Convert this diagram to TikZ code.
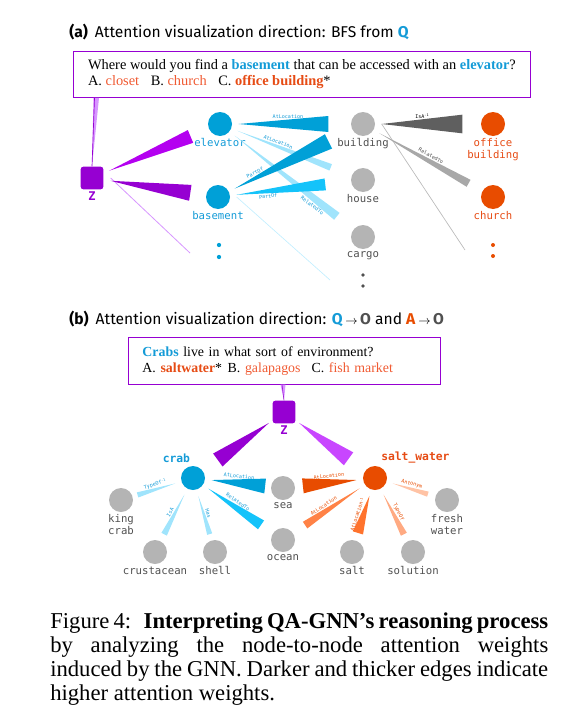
\documentclass[tikz,border=0pt]{standalone}
\usepackage{fontspec}
\setmainfont{Liberation Serif}
\newfontfamily\headfont{Fira Sans}
\newfontfamily\monofont{DejaVu Sans Mono}
\usetikzlibrary{calc}

\definecolor{zdark}{RGB}{150,0,210}
\definecolor{zbright}{RGB}{180,0,240}
\definecolor{zviolet}{RGB}{200,70,255}
\definecolor{zlight}{RGB}{215,150,255}
\definecolor{qblue}{RGB}{0,160,215}
\definecolor{qcyan}{RGB}{20,195,250}
\definecolor{qlight}{RGB}{160,228,252}
\definecolor{qpale}{RGB}{195,238,255}
\definecolor{qtext}{RGB}{20,155,215}
\definecolor{adark}{RGB}{232,76,0}
\definecolor{aorg}{RGB}{255,130,70}
\definecolor{asalt}{RGB}{255,115,45}
\definecolor{alight}{RGB}{255,170,130}
\definecolor{apale}{RGB}{255,195,165}
\definecolor{atext}{RGB}{240,90,50}
\definecolor{atext2}{RGB}{230,75,20}
\definecolor{onode}{RGB}{180,180,180}
\definecolor{odark}{RGB}{95,95,95}
\definecolor{omid}{RGB}{168,168,168}
\definecolor{olight}{RGB}{185,185,185}
\definecolor{otext}{RGB}{80,80,80}

\newcommand\inv{\raisebox{0.9pt}{\fontsize{2.6}{3}\selectfont -1}}

\tikzset{
  head/.style={font=\headfont\fontsize{11.7}{13}\selectfont, inner sep=0pt},
  qbox/.style={draw=zdark, line width=0.7pt, align=left, inner ysep=3pt,
               font=\fontsize{10.4}{12}\selectfont},
  zbox/.style={rectangle, rounded corners=2pt, fill=zdark, minimum size=17pt, inner sep=0pt},
  qnode/.style={circle, fill=qblue, minimum size=18pt, inner sep=0pt},
  anode/.style={circle, fill=adark, minimum size=18pt, inner sep=0pt},
  onode/.style={circle, fill=onode, minimum size=18pt, inner sep=0pt},
  lab/.style={font=\monofont\fontsize{8}{8.6}\selectfont, align=center, inner sep=1.5pt},
  qlab/.style={lab, text=qtext},
  alab/.style={lab, text=atext2},
  olab/.style={lab, text=otext},
  toplab/.style={font=\monofont\bfseries\fontsize{8.5}{9}\selectfont},
  zlab/.style={lab, text=zdark, font=\monofont\bfseries\fontsize{9}{9}\selectfont},
  elab/.style={font=\monofont\fontsize{3.8}{4}\selectfont, inner sep=0.3pt},
  caption/.style={font=\fontsize{17}{18}\selectfont, text width=373.5pt,
                  align=justify, inner sep=0pt},
}

\begin{document}
\begin{tikzpicture}[x=0.75pt, y=-0.75pt]
    \useasboundingbox (0,0) rectangle (585,728);

    % (a) BFS from Q
    \node[head, anchor=base west] (ha) at (69,37)
        {\textbf{(a)}\hspace{0.45em}Attention visualization direction: BFS from \textcolor{qtext}{\textbf{Q}}};
    \node[qbox, font=\fontsize{10.8}{12}\selectfont, anchor=north west, minimum width=342.75pt, minimum height=34.5pt] (qa) at (73,51)
        {Where would you find a \textcolor{qtext}{\textbf{basement}} that can be accessed with an \textcolor{qtext}{\textbf{elevator}}?\\
         A. \textcolor{atext}{closet}\hspace{0.8em}B. \textcolor{atext}{church}\hspace{0.8em}C. \textcolor{atext2}{\textbf{office building}}*};

    \node[zbox, label={[zlab]below:Z}] (za) at (92,178) {};
    \node[qnode, label={[qlab]below:elevator}] (elev) at (220,124) {};
    \node[qnode, label={[qlab]below:basement}] (base) at (218,197) {};
    \node[onode, label={[olab]below:building}] (build) at (363,124) {};
    \node[onode, label={[olab]below:house}] (house) at (363,180) {};
    \node[onode, label={[olab]below:cargo}] (cargo) at (363,237) {};
    \node[anode, label={[alab]below:office\\building}] (offb) at (493,124) {};
    \node[anode, label={[alab]below:church}] (church) at (493,197) {};

    \coordinate (pa) at ($(qa.south west)+(23,0)$);
    \coordinate (zmore) at (190,253);
    \coordinate (bmore) at (330,280);
    \coordinate (omore) at (465,250);

    \fill[zlight] (za.north) -- ($(pa)+(-2.5,0)$) -- ($(pa)+(3,0)$) -- cycle;
    \draw[zdark, line width=0.5pt] (za.north) -- ($(pa)+(-1.5,0)$);

    \draw[zlight, line width=0.6pt] (za) ++(14pt,0) -- (zmore);
    \draw[qpale, line width=0.5pt] (base) ++(14pt,0) -- (bmore);
    \draw[olight, line width=0.5pt] (build) ++(14pt,0) -- (omore);

    % source/target/end gap/half width/fill/label colour/pos/side/label
    \foreach \s/\t/\d/\w/\c/\l/\p/\a/\txt in {
        za/elev/24pt/5.2pt/zbright/zbright/0.5/above/{},
        za/base/21pt/6pt/zdark/zdark/0.5/above/{},
        elev/house/26pt/2.6pt/qlight/qtext/0.42/above/AtLocation,
        elev/cargo/25pt/3.3pt/qlight/qtext/0.8/below/RelatedTo,
        base/build/29pt/6pt/qblue/qtext/0.24/above/PartOf,
        elev/build/26pt/6pt/qblue/qtext/0.55/above/AtLocation,
        base/house/28.5pt/4.5pt/qcyan/qtext/0.35/below/PartOf,
        build/offb/23pt/7pt/odark/black/0.5/above/{IsA\inv},
        build/church/21pt/3pt/omid/otext/0.55/above/RelatedTo}
    {
        \coordinate (e0) at ($(\s)!14pt!(\t)$);
        \coordinate (e1) at ($(\t)!\d!(\s)$);
        \fill[\c] (e0) -- ($(e1)!\w!90:(e0)$) -- ($(e1)!\w!-90:(e0)$) -- cycle;
        \pgfmathsetmacro\off{\w*\p+0.4}
        \path (e0) -- (e1) node[elab, text=\l, pos=\p, sloped, \a=\off pt] {\txt};
    }

    \foreach \y in {245, 257} \fill[qblue] (219,\y) circle (1.6pt);
    \foreach \y in {275, 286} \fill[otext] (363,\y) circle (1.4pt);
    \foreach \y in {245, 256} \fill[adark] (493,\y) circle (1.5pt);

    % (b) Q -> O and A -> O
    \node[head, anchor=base west] (hb) at (69,324)
        {\textbf{(b)}\hspace{0.45em}Attention visualization direction: \textcolor{qtext}{\textbf{Q}}\,{\small$\rightarrow$}\,\textcolor{otext}{\textbf{O}} and \textcolor{adark}{\textbf{A}}\,{\small$\rightarrow$}\,\textcolor{otext}{\textbf{O}}};
    \node[qbox, anchor=north west, text width=213pt, inner xsep=10.5pt, minimum height=35pt] (qb) at (128,337)
        {\textcolor{qtext}{\textbf{Crabs}} live in what sort of environment?\\
         A. \textcolor{atext2}{\textbf{saltwater}}*\hspace{0.4em}B. \textcolor{atext}{galapagos}\hspace{0.8em}C. \textcolor{atext}{fish market}};

    \node[zbox, label={[zlab]below:Z}] (zb) at (284,412) {};
    \node[qnode, label={[qlab, toplab, xshift=6pt, yshift=3.5pt]above left:crab}] (crab) at (193,478) {};
    \node[anode, label={[alab, toplab, xshift=-3.5pt, yshift=3pt]above right:salt\_water}] (saltw) at (375,478) {};
    \node[onode, label={[olab]below:king\\crab}] (kcrab) at (121,500) {};
    \node[onode, label={[olab]below:crustacean}] (crust) at (155,552) {};
    \node[onode, label={[olab]below:shell}] (shell) at (215,552) {};
    \node[onode, label={[olab]below:sea}] (sea) at (283,488) {};
    \node[onode, label={[olab]below:ocean}] (ocean) at (283,540) {};
    \node[onode, label={[olab]below:salt}] (salt) at (352,552) {};
    \node[onode, label={[olab]below:solution}] (sol) at (413,552) {};
    \node[onode, label={[olab]below:fresh\\water}] (fresh) at (447,500) {};

    \coordinate (pb) at ($(qb.south west)+(155,0)$);
    \fill[zlight] (zb.north) -- ($(pb)+(-2.5,0)$) -- ($(pb)+(2.5,0)$) -- cycle;
    \draw[zdark, line width=0.4pt] (zb.north) -- ($(pb)+(-1,0)$);

    \foreach \s/\t/\d/\w/\c/\l/\p/\a/\txt in {
        zb/crab/23pt/6pt/zdark/zdark/0.5/above/{},
        zb/saltw/24.5pt/6pt/zviolet/zviolet/0.5/above/{},
        crab/kcrab/13pt/2pt/qlight/qtext/0.5/above/{TypeOf\inv},
        crab/crust/15pt/2.3pt/qlight/qtext/0.5/above/IsA,
        crab/shell/14pt/2pt/qlight/qtext/0.5/above/Has,
        crab/sea/13.5pt/5.6pt/qblue/qtext/0.5/above/AtLocation,
        crab/ocean/20pt/4pt/qcyan/qtext/0.5/above/RelatedTo,
        saltw/sea/15pt/5.6pt/adark/adark/0.5/above/AtLocation,
        saltw/ocean/20pt/3pt/aorg/adark/0.6/above/AtLocation,
        saltw/salt/15pt/4pt/asalt/adark/0.55/above/{AtLocation\inv},
        saltw/sol/15pt/2.5pt/alight/adark/0.5/above/TypeOf,
        saltw/fresh/15pt/2pt/apale/adark/0.5/above/Antonym}
    {
        \coordinate (e0) at ($(\s)!14pt!(\t)$);
        \coordinate (e1) at ($(\t)!\d!(\s)$);
        \fill[\c] (e0) -- ($(e1)!\w!90:(e0)$) -- ($(e1)!\w!-90:(e0)$) -- cycle;
        \pgfmathsetmacro\off{\w*\p+0.4}
        \path (e0) -- (e1) node[elab, text=\l, pos=\p, sloped, \a=\off pt] {\txt};
    }

    % caption
    \node[caption, anchor=north west] (cap) at (50,612)
        {\hyphenpenalty=10000 \exhyphenpenalty=10000 Figure 4:\hspace{0.55em}\textbf{Interpreting QA-GNN’s reasoning process} by analyzing the node-to-node attention weights induced by the GNN. Darker and thicker edges indicate higher attention weights.\par};
\end{tikzpicture}
\end{document}
